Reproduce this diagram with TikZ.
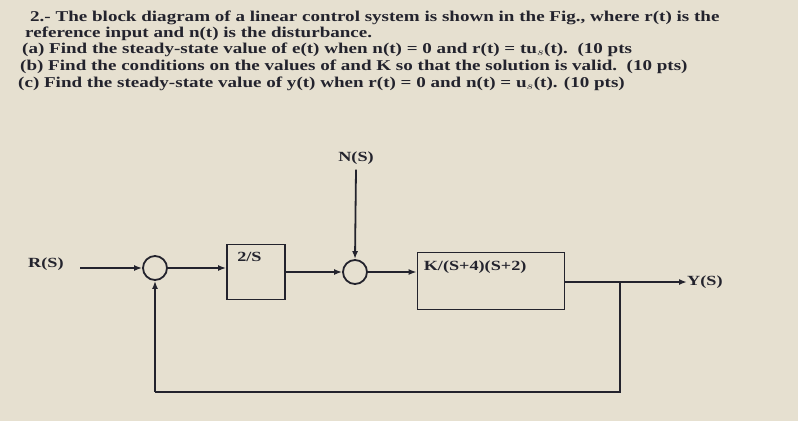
\documentclass[tikz,border=0pt]{standalone}
\usepackage{fontspec}
\setmainfont{Liberation Serif}
\usetikzlibrary{arrows.meta}
\definecolor{paper}{RGB}{230,224,208}
\definecolor{ink}{RGB}{35,35,45}
\begin{document}
\begin{tikzpicture}[x=1pt,y=-1pt,
  line/.style={draw=ink,line width=1.8pt},
  arr/.style={line,-{Latex[length=8pt,width=6pt]}},
  sumc/.style={circle,draw=ink,line width=1.8pt,minimum size=24pt,inner sep=0pt},
  blk/.style={draw=ink,line width=1.8pt,inner sep=0pt},
  lbl/.style={text=ink,font=\fontsize{14}{15}\selectfont\bfseries,inner sep=0pt},
  q/.style={text=ink,anchor=west,inner sep=0pt,font=\fontsize{15}{16}\selectfont\bfseries}]
\fill[paper] (0,0) rectangle (798,421);
\useasboundingbox (0,0) rectangle (798,421);
\node[q] (t1) at (30,18) {\scalebox{1.27}[1]{2.- The block diagram of a linear control system is shown in the Fig., where r(t) is the}};
\node[q] (t2) at (25,34) {\scalebox{1.27}[1]{reference input and n(t) is the disturbance.}};
\node[q] (t3) at (22,50) {\scalebox{1.27}[1]{(a) Find the steady-state value of e(t) when n(t) = 0 and r(t) = tu$_s$(t).\ \ (10 pts}};
\node[q] (t4) at (20,67) {\scalebox{1.27}[1]{(b) Find the conditions on the values of and K so that the solution is valid.\ \ (10 pts)}};
\node[q] (t5) at (18,84) {\scalebox{1.27}[1]{(c) Find the steady-state value of y(t) when r(t) = 0 and n(t) = u$_s$(t). (10 pts)}};

\node[lbl] (N) at (356,158) {\scalebox{1.3}[1]{N(S)}};
\node[lbl,anchor=west] (R) at (28,264) {\scalebox{1.3}[1]{R(S)}};
\node[sumc] (s1) at (155,268) {};
\node[blk,minimum width=58pt,minimum height=55pt] (b1) at (256,272) {};
\node[lbl,anchor=north west] (b1t) at (b1.north west) [xshift=11pt,yshift=-8pt] {\scalebox{1.3}[1]{2/S}};
\node[sumc] (s2) at (355,272) {};
\node[blk,minimum width=147pt,minimum height=57pt] (b2) at (491,281) {};
\node[lbl,anchor=north west] (b2t) at (b2.north west) [xshift=7pt,yshift=-9pt] {\scalebox{1.3}[1]{K/(S+4)(S+2)}};
\node[lbl,anchor=west] (Y) at (687,282) {\scalebox{1.3}[1]{Y(S)}};
\coordinate (br) at (620,282);
\coordinate (bb) at (620,392);
\coordinate (rs) at (80,268);

\draw[arr] (rs) -- (s1.west);
\draw[arr] (s1.east) -- (b1.west |- s1.east);
\draw[arr] (b1.east |- s2.west) -- (s2.west);
\draw[arr] (N.south) ++(0,5) -- (s2.north);
\draw[arr] (s2.east) -- (b2.west |- s2.east);
\draw[arr] (b2.east |- br) -- (Y.west);
\draw[line] (br) -- (bb) -- (s1.south |- bb);
\draw[arr] (s1.south |- bb) -- (s1.south);
\end{tikzpicture}
\end{document}
